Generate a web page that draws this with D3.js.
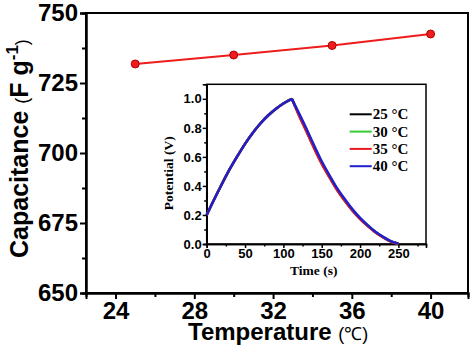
<!DOCTYPE html>
<html>
<head>
<meta charset="utf-8">
<script src="https://cdn.jsdelivr.net/npm/d3@7"></script>
<style>
  html, body { margin: 0; padding: 0; background: #fff; }
  svg { display: block; }
</style>
</head>
<body>
<div id="chart"></div>
<script>
// main plot: capacitance vs temperature
const temperatures = [25, 30, 35, 40];
const capacitance = [731.8, 735.0, 738.4, 742.5];
const yTicks = [650, 675, 700, 725, 750];
const yMinorTicks = [662.5, 687.5, 712.5, 737.5];
const xTicks = [24, 28, 32, 36, 40];
const xMinorTicks = [26, 30, 34, 38];

// inset: charge / discharge curves
const chargeTime = [0, 10, 20, 30, 40, 50, 60, 70, 80, 90, 100, 111];
const dischargeTime = [111, 120, 130, 140, 150, 160, 170, 180, 190, 200, 210, 220, 230, 240, 250];
const seriesNames = ["25 °C", "30 °C", "35 °C", "40 °C"];
const seriesColors = ["#000000", "#33cc33", "#e8191e", "#1f1fcc"];
const charge25 = [0.2, 0.31, 0.415, 0.515, 0.605, 0.69, 0.765, 0.83, 0.885, 0.93, 0.968, 1.0];
const charge30 = [0.2, 0.31, 0.415, 0.515, 0.605, 0.69, 0.765, 0.83, 0.885, 0.93, 0.968, 1.0];
const charge35 = [0.2, 0.31, 0.415, 0.515, 0.605, 0.69, 0.765, 0.83, 0.885, 0.93, 0.968, 1.0];
const charge40 = [0.2, 0.31, 0.415, 0.515, 0.605, 0.69, 0.765, 0.83, 0.885, 0.93, 0.968, 1.0];
const discharge25 = [1.0, 0.893, 0.78, 0.665, 0.556, 0.463, 0.375, 0.3, 0.232, 0.174, 0.125, 0.082, 0.047, 0.018, 0.002];
const discharge30 = [1.0, 0.897, 0.785, 0.67, 0.56, 0.467, 0.378, 0.303, 0.235, 0.176, 0.127, 0.083, 0.048, 0.019, 0.002];
const discharge35 = [1.0, 0.889, 0.775, 0.66, 0.552, 0.46, 0.372, 0.298, 0.23, 0.172, 0.123, 0.08, 0.046, 0.017, 0.001];
const discharge40 = [1.0, 0.905, 0.795, 0.68, 0.57, 0.475, 0.385, 0.31, 0.24, 0.18, 0.13, 0.085, 0.05, 0.02, 0.003];
const insetXTicks = [0, 50, 100, 150, 200, 250];
const insetXMinor = [25, 75, 125, 175, 225, 275];
const insetYTicks = [0, 0.2, 0.4, 0.6, 0.8, 1.0];
const insetYMinor = [0.1, 0.3, 0.5, 0.7, 0.9];

const chargeSeries = [charge25, charge30, charge35, charge40];
const dischargeSeries = [discharge25, discharge30, discharge35, discharge40];

const W = 474, H = 350;
const sans = "'Liberation Sans', Arial, sans-serif";
const serif = "'Liberation Serif', 'Times New Roman', serif";

const svg = d3.select("#chart").append("svg")
    .attr("width", W).attr("height", H)
    .attr("viewBox", [0, 0, W, H]);

const margin = {top: 13, right: 6, bottom: 57, left: 86};
const width = W - margin.left - margin.right;
const height = H - margin.top - margin.bottom;

const g = svg.append("g").attr("transform", `translate(${margin.left},${margin.top})`);

const x = d3.scaleLinear().domain([22.5, 41.9]).range([0, width]);
const y = d3.scaleLinear().domain([650, 750]).range([height, 0]);

function styleAxis(sel, fontSize, family, strokeW) {
    sel.selectAll("path").attr("stroke", "#000").attr("stroke-width", strokeW);
    sel.selectAll("line").attr("stroke", "#000").attr("stroke-width", strokeW);
    sel.selectAll("text")
        .attr("fill", "#000")
        .style("font-family", family)
        .style("font-size", fontSize + "px")
        .style("font-weight", "bold");
}

// frame
g.append("rect")
    .attr("width", width).attr("height", height)
    .attr("fill", "none").attr("stroke", "#000").attr("stroke-width", 2);

g.append("g")
    .attr("transform", `translate(0,${height})`)
    .call(d3.axisBottom(x).tickValues(xMinorTicks).tickSize(4).tickFormat(""))
    .call(s => styleAxis(s, 24, sans, 2));
g.append("g")
    .attr("transform", `translate(0,${height})`)
    .call(d3.axisBottom(x).tickValues(xTicks).tickSize(6).tickPadding(3).tickFormat(d3.format("d")))
    .call(s => styleAxis(s, 24, sans, 2));

g.append("g")
    .call(d3.axisLeft(y).tickValues(yMinorTicks).tickSize(4).tickFormat(""))
    .call(s => styleAxis(s, 24, sans, 2));
g.append("g")
    .call(d3.axisLeft(y).tickValues(yTicks).tickSize(6).tickPadding(2).tickFormat(d3.format("d")))
    .call(s => styleAxis(s, 24, sans, 2));

// data line + markers
const mainData = temperatures.map((t, i) => ({t, c: capacitance[i]}));
g.append("path")
    .datum(mainData)
    .attr("fill", "none")
    .attr("stroke", "#ee1c1c")
    .attr("stroke-width", 2)
    .attr("d", d3.line().x(d => x(d.t)).y(d => y(d.c)));
g.selectAll("circle.pt")
    .data(mainData)
    .join("circle")
    .attr("class", "pt")
    .attr("cx", d => x(d.t)).attr("cy", d => y(d.c))
    .attr("r", 4)
    .attr("fill", "#ee1c1c")
    .attr("stroke", "#b00000")
    .attr("stroke-width", 1);

// axis titles
const xTitle = svg.append("text")
    .attr("x", 188).attr("y", 340)
    .attr("fill", "#000")
    .style("font-family", sans);
xTitle.append("tspan").style("font-size", "24px").style("font-weight", "bold").text("Temperature ");
xTitle.append("tspan").style("font-size", "18px").text("(℃)");

const yTitle = svg.append("text")
    .attr("transform", "translate(28,258) rotate(-90)")
    .attr("fill", "#000")
    .style("font-family", sans);
yTitle.append("tspan").style("font-size", "25px").style("font-weight", "bold").text("Capacitance ");
yTitle.append("tspan").style("font-size", "18px").text("(");
yTitle.append("tspan").style("font-size", "25px").style("font-weight", "bold").text("F g");
yTitle.append("tspan").attr("dy", -10).style("font-size", "17px").style("font-weight", "bold").text("-1");
yTitle.append("tspan").attr("dy", 10).style("font-size", "18px").text(")");

// ---- inset ----
const inset = {left: 206.7, top: 84.3, width: 219.3, height: 159.7};
const ig = svg.append("g").attr("transform", `translate(${inset.left},${inset.top})`);

const ix = d3.scaleLinear().domain([0, 286]).range([0, inset.width]);
const iy = d3.scaleLinear().domain([0, 1.1]).range([inset.height, 0]);

ig.append("rect")
    .attr("width", inset.width).attr("height", inset.height)
    .attr("fill", "#fff").attr("stroke", "#000").attr("stroke-width", 1.5);

ig.append("g")
    .attr("transform", `translate(0,${inset.height})`)
    .call(d3.axisBottom(ix).tickValues(insetXMinor).tickSize(2.5).tickFormat(""))
    .call(s => styleAxis(s, 13, sans, 1.5));
ig.append("g")
    .attr("transform", `translate(0,${inset.height})`)
    .call(d3.axisBottom(ix).tickValues(insetXTicks).tickSize(4).tickPadding(1).tickFormat(d3.format("d")))
    .call(s => styleAxis(s, 13, sans, 1.5));
ig.append("g")
    .call(d3.axisLeft(iy).tickValues(insetYMinor).tickSize(2.5).tickFormat(""))
    .call(s => styleAxis(s, 13, sans, 1.5));
ig.append("g")
    .call(d3.axisLeft(iy).tickValues(insetYTicks).tickSize(4).tickPadding(1).tickFormat(d3.format(".1f")))
    .call(s => styleAxis(s, 13, sans, 1.5));

const curve = d3.line().x(d => ix(d[0])).y(d => iy(d[1])).curve(d3.curveMonotoneX);
seriesNames.forEach((name, i) => {
    const up = chargeTime.map((t, j) => [t, chargeSeries[i][j]]);
    const down = dischargeTime.map((t, j) => [t, dischargeSeries[i][j]]);
    [up, down].forEach(seg => {
        ig.append("path")
            .datum(seg)
            .attr("fill", "none")
            .attr("stroke", seriesColors[i])
            .attr("stroke-width", 2.5)
            .attr("stroke-linejoin", "round")
            .attr("d", curve);
    });
});

// inset legend
const legend = ig.append("g").attr("transform", "translate(143,30)");
seriesNames.forEach((name, i) => {
    const row = legend.append("g").attr("transform", `translate(0,${i * 17.3})`);
    row.append("line")
        .attr("x1", 0).attr("x2", 22)
        .attr("stroke", seriesColors[i]).attr("stroke-width", 2);
    row.append("text")
        .attr("x", 23).attr("y", 5)
        .attr("fill", "#000")
        .style("font-family", serif)
        .style("font-size", "15px")
        .style("font-weight", "bold")
        .text(name);
});

ig.append("text")
    .attr("transform", `translate(-34,89) rotate(-90)`)
    .attr("text-anchor", "middle")
    .attr("fill", "#000")
    .style("font-family", serif)
    .style("font-size", "13.5px")
    .style("font-weight", "bold")
    .text("Potential (V)");
ig.append("text")
    .attr("x", 107).attr("y", 190.7)
    .attr("text-anchor", "middle")
    .attr("fill", "#000")
    .style("font-family", serif)
    .style("font-size", "13.5px")
    .style("font-weight", "bold")
    .text("Time (s)");
</script>
</body>
</html>
